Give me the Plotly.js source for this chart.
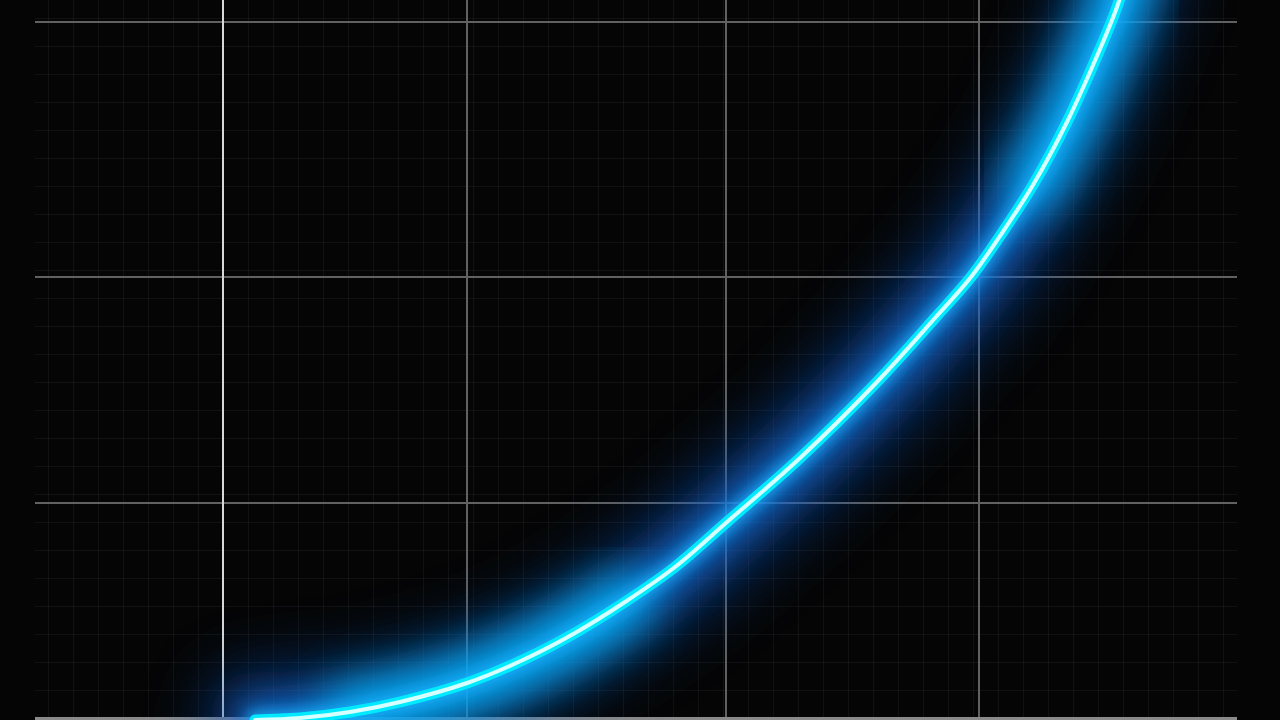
<!DOCTYPE html>
<html>
<head>
<meta charset="utf-8">
<script src="https://cdn.plot.ly/plotly-3.0.1.min.js"></script>
<style>
html,body{margin:0;padding:0;background:#050505;}
#chart{width:1280px;height:720px;}
</style>
</head>
<body>
<div id="chart"></div>
<script>
// Curve values (x offset from the bright vertical axis, y height above the baseline)
const curveX = [32, 77, 127, 177, 244, 302, 352, 402, 452, 504, 577, 652, 712, 748, 777, 810, 844, 877, 894, 907];
const curveY = [-2, 0, 6, 16, 35, 59, 85, 116, 151, 196, 260, 334, 400, 441, 482, 533, 596, 669, 711, 753];

// Major grid positions
const xMajor = [244, 503, 756];
const yMajor = [215, 441, 696];

const base = {type: 'scatter', mode: 'lines', hoverinfo: 'skip', showlegend: false, x: curveX, y: curveY};
const mk = (w, c, op, extra) => Object.assign({}, base, {line: {shape: 'spline', smoothing: 1, width: w, color: c}, opacity: op}, extra || {});

const traces = [
  mk(95, '#0a4fb8', 0.6),    // 0 wide soft halo (blurred)
  mk(42, '#1684f0', 0.65),   // 1 mid halo (blurred)
  mk(55, '#00c4ff', 0.75, {x: curveX.slice(2, 8), y: curveY.slice(2, 8)}),   // 2 bottom bloom (blurred)
  mk(55, '#00c4ff', 0.7, {x: curveX.slice(15), y: curveY.slice(15)}),        // 3 top bloom (blurred)
  mk(18, '#1fb0ff', 0.8),    // 4 near glow (blurred)
  mk(11, '#00eaff', 1),      // 5 core
  mk(4, '#d6ffff', 1)        // 6 highlight
];

const layout = {
  width: 1280, height: 720,
  margin: {l: 0, r: 0, t: 0, b: 0, pad: 0},
  paper_bgcolor: '#050505', plot_bgcolor: '#050505',
  showlegend: false,
  xaxis: {
    domain: [35/1280, 1237/1280], range: [-188, 1014],
    tickmode: 'array', tickvals: xMajor, showticklabels: false, ticks: '',
    showgrid: true, gridcolor: '#616161', gridwidth: 2,
    zeroline: true, zerolinecolor: '#d8d8d8', zerolinewidth: 2,
    showline: false, fixedrange: true,
    minor: {tick0: 0, dtick: 25, showgrid: true, gridcolor: 'rgba(255,255,255,0.05)', gridwidth: 1, ticks: ''}
  },
  yaxis: {
    domain: [0, 1], range: [-2, 718],
    tickmode: 'array', tickvals: yMajor, showticklabels: false, ticks: '',
    showgrid: true, gridcolor: '#616161', gridwidth: 2,
    zeroline: true, zerolinecolor: '#8a8a8a', zerolinewidth: 3,
    showline: false, fixedrange: true,
    minor: {tick0: 0, dtick: 28, showgrid: true, gridcolor: 'rgba(255,255,255,0.05)', gridwidth: 1, ticks: ''}
  }
};

Plotly.newPlot('chart', traces, layout, {staticPlot: true, displayModeBar: false}).then(function (gd) {
  const svg = gd.querySelector('svg.main-svg');
  const ns = 'http://www.w3.org/2000/svg';
  let defs = svg.querySelector('defs');
  if (!defs) { defs = document.createElementNS(ns, 'defs'); svg.insertBefore(defs, svg.firstChild); }
  const blurs = {b32: 32, b18: 18, b24: 24, b7: 7};
  Object.keys(blurs).forEach(function (id) {
    const f = document.createElementNS(ns, 'filter');
    f.setAttribute('id', id);
    f.setAttribute('x', '-50%'); f.setAttribute('y', '-50%');
    f.setAttribute('width', '200%'); f.setAttribute('height', '200%');
    const g = document.createElementNS(ns, 'feGaussianBlur');
    g.setAttribute('stdDeviation', blurs[id]);
    f.appendChild(g);
    defs.appendChild(f);
  });
  const tr = gd.querySelectorAll('.scatterlayer .trace');
  const fmap = ['b32', 'b18', 'b24', 'b24', 'b7'];
  tr.forEach(function (t, i) {
    t.querySelectorAll('path.js-line').forEach(function (p) {
      p.style.strokeLinecap = 'round';
      if (fmap[i]) p.setAttribute('filter', 'url(#' + fmap[i] + ')');
    });
  });
});
</script>
</body>
</html>
